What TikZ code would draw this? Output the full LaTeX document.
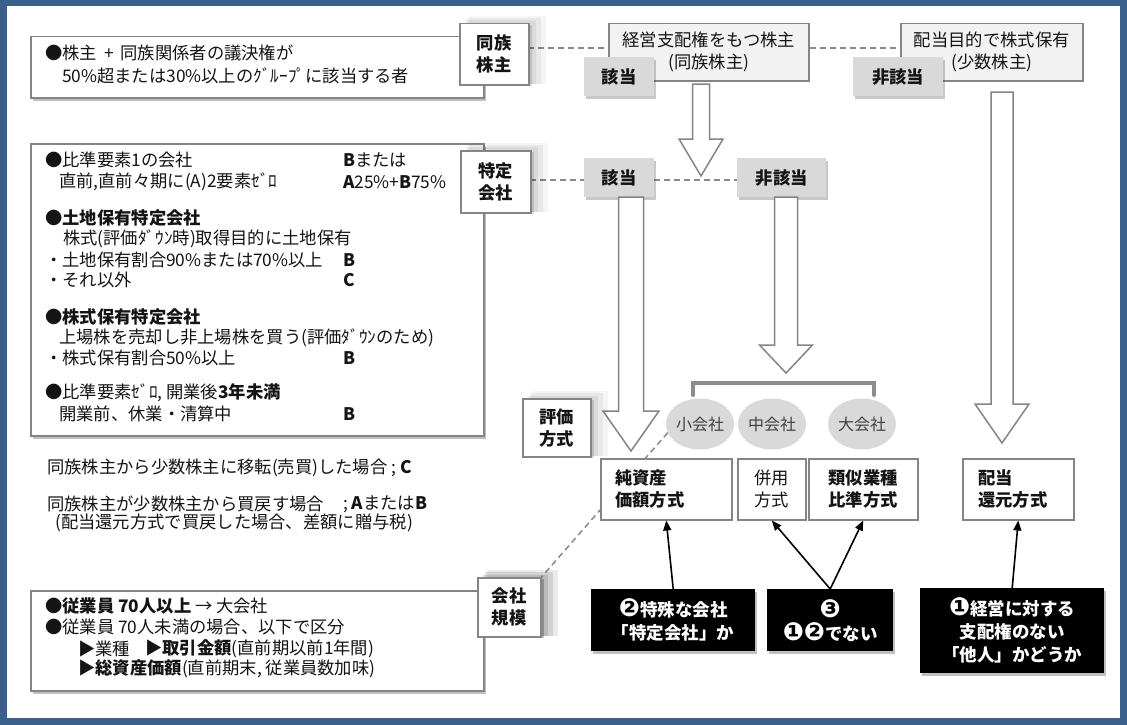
\documentclass[tikz,border=0pt]{standalone}
\usepackage{fontspec}
\setmainfont{Noto Sans CJK JP}
\newfontfamily\dejavu{DejaVu Sans}
\usetikzlibrary{shadows,arrows.meta,shapes.geometric}
\definecolor{frameblue}{HTML}{3A5F8D}
\definecolor{boxgray}{HTML}{858585}
\definecolor{lightfill}{HTML}{F2F2F2}
\definecolor{tagfill}{HTML}{D9D9D9}
\definecolor{txt}{HTML}{141414}
\definecolor{dashgray}{HTML}{8A8A8A}
\newcommand\bodyfont{\fontsize{17.3}{22}\selectfont}
\newcommand\circnum[1]{{\dejavu\fontsize{25}{23}\selectfont #1}}
\begin{document}
\begin{tikzpicture}[x=1pt,y=-1pt,
  every node/.style={font=\bodyfont, text=txt},
  infobox/.style={draw=boxgray, line width=1.5pt, fill=white, inner sep=0pt, anchor=north west,
    drop shadow={shadow xshift=2pt, shadow yshift=-3pt, opacity=.35, fill=black!70}},
  tagbox/.style={draw=boxgray, line width=1.5pt, fill=white, inner sep=0pt, anchor=north west,
    font=\bodyfont\bfseries, align=center,
    general shadow={shadow xshift=12pt, shadow yshift=4pt, shadow scale=1.12, opacity=.04, fill=black},
    general shadow={shadow xshift=9pt, shadow yshift=3pt, shadow scale=1.08, opacity=.05, fill=black},
    general shadow={shadow xshift=6pt, shadow yshift=2pt, shadow scale=1.04, opacity=.06, fill=black},
    general shadow={shadow xshift=3pt, shadow yshift=-1pt, opacity=.12, fill=black}},
  toptext/.style={draw=boxgray, line width=1.5pt, fill=lightfill, inner sep=0pt, anchor=north west, align=center},
  graytag/.style={fill=tagfill, inner sep=0pt, anchor=north west, font=\bodyfont\bfseries,
    drop shadow={shadow xshift=1.5pt, shadow yshift=-2.5pt, opacity=.3, fill=black!70}},
  methodbox/.style={draw=boxgray, line width=1.5pt, fill=white, inner sep=0pt, anchor=north west, align=center},
  darkbox/.style={fill=black, text=white, inner sep=0pt, anchor=north west, align=center,
    font=\fontsize{17.5}{23}\selectfont\bfseries,
    drop shadow={shadow xshift=1.5pt, shadow yshift=-2.5pt, opacity=.35, fill=black!70}},
  sizeoval/.style={ellipse, fill=tagfill, minimum width=68pt, minimum height=51pt, inner sep=0pt,
    text=black!75, font=\fontsize{16}{20}\selectfont},
  txtline/.style={anchor=west, inner sep=0pt},
  hollow/.style={draw=boxgray, line width=1.5pt, fill=white, line join=miter},
  dashline/.style={draw=dashgray, line width=1.5pt, dash pattern=on 6pt off 4pt},
  thinarrow/.style={draw=black, line width=1.6pt, -{Triangle[length=10pt,width=8pt]}}
]
\useasboundingbox (0,0) rectangle (1127,725);
\fill[white] (0,0) rectangle (1127,725);
\draw[frameblue, line width=7pt] (3.5,3) rectangle (1123.5,721.5);

\newcommand\hollowdown[6]{%
  \draw[hollow] (#1-#2,#3) -- (#1+#2,#3) -- (#1+#2,#4) -- (#1+#5,#4) -- (#1,#6)
    -- (#1-#5,#4) -- (#1-#2,#4) -- cycle;}

% ---------- top row ----------
\node[toptext, minimum width=200pt, minimum height=57pt] (keiei) at (608,23) {経営支配権をもつ株主\\(同族株主)};
\node[toptext, minimum width=182pt, minimum height=57pt] (haitou) at (900,23) {配当目的で株式保有\\(少数株主)};
\draw[dashline] (528,48) -- (keiei.west |- 0,48);
\draw[dashline] (keiei.east |- 0,48) -- (haitou.west |- 0,48);
\node[graytag, minimum width=70pt, minimum height=39pt] (gai1) at (584,57) {該当};
\node[graytag, minimum width=90pt, minimum height=39pt] (higai1) at (853,57) {非該当};

\node[infobox, minimum width=453pt, minimum height=61pt] (box1) at (30,36) {};
\node[txtline] (b1l1) at (45,53) {●株主\hspace{.4em}+\hspace{.4em}同族関係者の議決権が};
\node[txtline] (b1l2) at (62,76) {50\%超または30\%以上のｸﾞﾙｰﾌﾟに該当する者};
\node[tagbox, minimum width=69pt, minimum height=61pt] (dozoku) at (459,23) {同族\\株主};

% ---------- hollow arrows ----------
\hollowdown{701}{8.5}{84}{139}{22}{176}
\hollowdown{1002}{11}{92}{404}{27}{443}

% ---------- box 2 ----------
\node[infobox, minimum width=453pt, minimum height=292pt] (box2) at (30,143) {};
\node[txtline] (t1) at (45,160) {●比準要素1の会社};
\node[txtline] (t1b) at (343,160) {{\bfseries B}または};
\node[txtline] (t2) at (59,182) {直前,直前々期に(A)2要素ｾﾞﾛ};
\node[txtline] (t2b) at (343,182) {{\bfseries A}25\%+{\bfseries B}75\%};
\node[txtline, font=\bodyfont\bfseries] (t3) at (45,218) {●土地保有特定会社};
\node[txtline] (t4) at (63,239) {株式(評価ﾀﾞｳﾝ時)取得目的に土地保有};
\node[txtline] (t5) at (45,260) {・土地保有割合90\%または70\%以上};
\node[txtline, font=\bodyfont\bfseries] (t5b) at (343,260) {B};
\node[txtline] (t6) at (45,280) {・それ以外};
\node[txtline, font=\bodyfont\bfseries] (t6b) at (343,280) {C};
\node[txtline, font=\bodyfont\bfseries] (t7) at (45,317) {●株式保有特定会社};
\node[txtline] (t8) at (59,338) {上場株を売却し非上場株を買う(評価ﾀﾞｳﾝのため)};
\node[txtline] (t9) at (45,358) {・株式保有割合50\%以上};
\node[txtline, font=\bodyfont\bfseries] (t9b) at (343,358) {B};
\node[txtline] (t10) at (45,393) {●比準要素ｾﾞﾛ, 開業後{\bfseries 3年未満}};
\node[txtline] (t11) at (59,414) {開業前、休業・清算中};
\node[txtline, font=\bodyfont\bfseries] (t11b) at (343,414) {B};

% ---------- tokutei row ----------
\draw[dashline] (530,180) -- (584,180);
\draw[dashline] (654,180) -- (737,180);
\node[tagbox, minimum width=70pt, minimum height=62pt] (tokutei) at (460,150) {特定\\会社};
\node[graytag, minimum width=70pt, minimum height=39pt] (gai2) at (584,158) {該当};
\node[graytag, minimum width=89pt, minimum height=39pt] (higai2) at (737,158) {非該当};
\hollowdown{631}{12.5}{197}{411}{28}{451}
\hollowdown{786}{11.5}{197}{345}{26.5}{373}

% ---------- free text ----------
\node[txtline] (f1) at (47,468) {同族株主から少数株主に移転(売買)した場合 ; {\bfseries C}};
\node[txtline] (f2) at (47,504) {同族株主が少数株主から買戻す場合};
\node[txtline] (f2b) at (343,504) {; {\bfseries A}または{\bfseries B}};
\node[txtline] (f3) at (55,523) {(配当還元方式で買戻した場合、差額に贈与税)};

% ---------- size ovals and methods ----------
\node[sizeoval] (shou) at (700,424) {小会社};
\node[sizeoval] (chu) at (772,424) {中会社};
\node[sizeoval] (dai) at (862,424) {大会社};
\draw[draw=black!45, line width=4pt, line cap=round] (693,395) -- (693,383) -- (874,383) -- (874,395);

\node[tagbox, minimum width=68pt, minimum height=58pt] (hyouka) at (522,398) {評価\\方式};

\node[tagbox, minimum width=63pt, minimum height=59pt] (kibo) at (477,577) {会社\\規模};
\draw[dashline] (shou.195) -- (kibo.north east);

\node[methodbox, minimum width=131pt, minimum height=61pt] (jun) at (600,458) {};
\node[txtline, align=left, font=\bodyfont\bfseries] (juntext) at (615,489) {純資産\\価額方式};
\node[methodbox, minimum width=68pt, minimum height=61pt] (heiyo) at (737,458) {併用\\方式};
\node[methodbox, minimum width=109pt, minimum height=61pt, font=\bodyfont\bfseries] (ruiji) at (808,458) {類似業種\\比準方式};
\node[methodbox, minimum width=111pt, minimum height=61pt] (kangen) at (962,458) {};
\node[txtline, align=left, font=\bodyfont\bfseries] (kangentext) at (978,489) {配当\\還元方式};

% ---------- box 4 ----------
\node[infobox, minimum width=453pt, minimum height=100pt] (box4) at (30,590) {};
\node[txtline] (k1) at (45,606) {●{\bfseries 従業員 70人以上} → 大会社};
\node[txtline] (k2) at (45,627) {●従業員 70人未満の場合、以下で区分};
\node[txtline] (k3) at (78,649) {▶業種};
\node[txtline] (k3b) at (145,649) {▶{\bfseries 取引金額}(直前期以前1年間)};
\node[txtline] (k4) at (78,669) {▶{\bfseries 総資産価額}(直前期末, 従業員数加味)};
\node[tagbox, minimum width=63pt, minimum height=59pt] (kibo2) at (477,577) {会社\\規模};

% ---------- black boxes ----------
\node[darkbox, minimum width=164pt, minimum height=62pt] (q2) at (591,589) {\circnum{❷}特殊な会社\\「特定会社」か};
\node[darkbox, minimum width=126pt, minimum height=62pt] (q3) at (767,589) {\circnum{❸}\\\circnum{❶❷}でない};
\node[darkbox, minimum width=184pt, minimum height=85pt] (q1) at (920,588) {\circnum{❶}経営に対する\\支配権のない\\「他人」かどうか};

\draw[thinarrow] (q2.north) -- (jun.south);
\draw[thinarrow] (q3.north) -- (heiyo.south);
\draw[thinarrow] (q3.north) -- (ruiji.south);
\draw[thinarrow] (q1.north) -- (kangen.south);
\end{tikzpicture}
\end{document}
